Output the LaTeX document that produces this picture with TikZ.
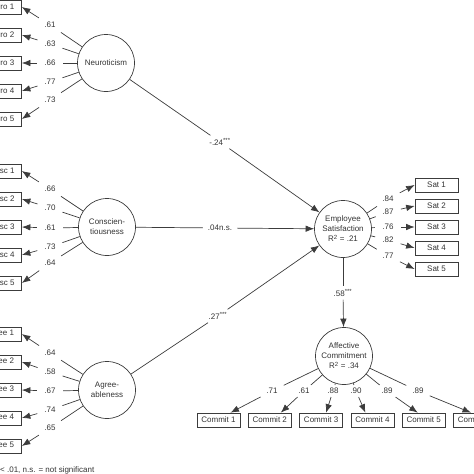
\documentclass[tikz,border=0pt]{standalone}
\usepackage{fontspec}
\setmainfont{Liberation Sans}
\usetikzlibrary{arrows.meta,calc}
\definecolor{ink}{HTML}{333333}
\definecolor{edge}{HTML}{3C3C3C}
\begin{document}
\begin{tikzpicture}[x=1pt,y=-1pt,
  every node/.style={font=\fontsize{8}{10}\selectfont, text=ink},
  lat/.style={circle, draw=edge, line width=0.7pt, minimum size=57pt, inner sep=0pt, align=center},
  ind/.style={draw=edge, line width=0.7pt, minimum width=43pt, minimum height=14pt, inner sep=0pt},
  ld/.style={circle, minimum size=26pt, inner sep=0pt},
  cl/.style={rectangle, inner xsep=6pt, inner ysep=3pt},
  pl/.style={rectangle, inner xsep=5pt, inner ysep=3pt},
  ln/.style={draw=edge, line width=0.7pt},
  ar/.style={draw=edge, line width=0.7pt, -{Latex[length=8.5pt,width=6.5pt]}},
]
\useasboundingbox (0,0) rectangle (474,474);
\clip (0,0) rectangle (474,474);

% latent variables
\node[lat] (N) at (106,63) {Neuroticism};
\node[lat] (C) at (107,227) {Conscien-\\tiousness};
\node[lat] (A) at (107,390) {Agree-\\ableness};
\node[lat] (ES) at (343,229) {Employee\\Satisfaction\\R\textsuperscript{2} = .21};
\node[lat] (AC) at (344,356) {Affective\\Commitment\\R\textsuperscript{2} = .34};

% Neuroticism indicators
\foreach \i/\by/\ly/\v in {1/7/25/.61, 2/35/44/.63, 3/63/63/.66, 4/91/82/.77, 5/119/100/.73} {
  \node[ind] (n\i) at (0,\by) {Neuro \i};
  \node[ld] (nl\i) at (50,\ly) {\v};
  \draw[ln] (N) -- (nl\i);
  \draw[ar] (nl\i) -- (n\i.east);
}
% Conscientiousness indicators
\foreach \i/\by/\ly/\v in {1/171/189/.66, 2/199/208/.70, 3/227/228/.61, 4/255/247/.73, 5/283/263/.64} {
  \node[ind] (c\i) at (0,\by) {Consc \i};
  \node[ld] (cl\i) at (50,\ly) {\v};
  \draw[ln] (C) -- (cl\i);
  \draw[ar] (cl\i) -- (c\i.east);
}
% Agreeableness indicators
\foreach \i/\by/\ly/\v in {1/334/353/.64, 2/362/372/.58, 3/390/391/.67, 4/418/410/.74, 5/446/428/.65} {
  \node[ind] (a\i) at (0,\by) {Agree \i};
  \node[ld] (al\i) at (50,\ly) {\v};
  \draw[ln] (A) -- (al\i);
  \draw[ar] (al\i) -- (a\i.east);
}
% Satisfaction indicators
\foreach \i/\by/\ly/\v in {1/185/199/.84, 2/206/212/.87, 3/227/227/.76, 4/248/240/.82, 5/269/256/.77} {
  \node[ind] (s\i) at (436.5,\by) {Sat \i};
  \node[ld] (sl\i) at (388,\ly) {\v};
  \draw[ln] (ES) -- (sl\i);
  \draw[ar] (sl\i) -- (s\i.west);
}
% Commitment indicators
\foreach \i/\bx/\lx/\off/\v in {1/218.5/272/12/.71, 2/269.8/304/11/.61, 3/321.1/333/5/.88, 4/372.4/356/-7/.90, 5/423.7/387/-6/.89, 6/475/418/-4/.89} {
  \node[ind] (m\i) at (\bx,420) {Commit \i};
  \node[cl] (ml\i) at (\lx,391) {\v};
  \coordinate (mt\i) at ($(m\i.north)+(\off,0)$);
  \draw[ln] (AC) -- (ml\i);
  \draw[ar] (ml\i) -- (mt\i);
}

% structural paths
\node[pl] (p1) at (220,142) {-.24\textsuperscript{***}};
\draw[ln] (N) -- (p1);
\draw[ar] (p1) -- (ES);
\node[pl] (p2) at (220,228) {.04n.s.};
\draw[ln] (C) -- (p2);
\draw[ar] (p2) -- (ES);
\node[pl] (p3) at (218,316) {.27\textsuperscript{***}};
\draw[ln] (A) -- (p3);
\draw[ar] (p3) -- (ES);
\node[pl] (p4) at (343,293) {.58\textsuperscript{***}};
\draw[ln] (ES) -- (p4);
\draw[ar] (p4) -- (AC);

% note
\node[anchor=west, inner sep=0pt] (note) at (0,470) {< .01, n.s. = not significant};
\end{tikzpicture}
\end{document}
